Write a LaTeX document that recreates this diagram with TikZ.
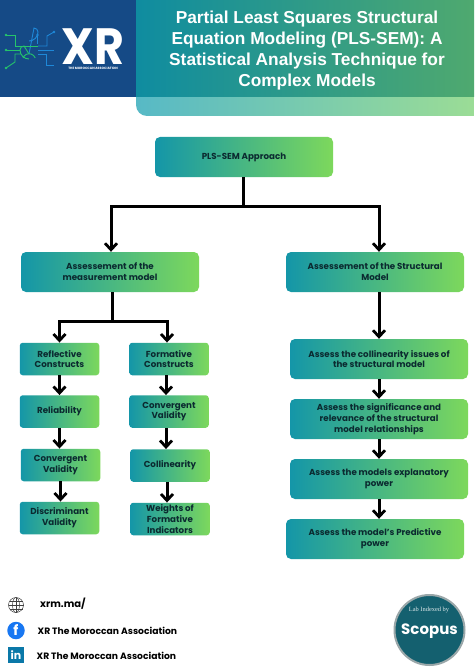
\documentclass[tikz,border=0pt]{standalone}
\usepackage{fontspec}
\setmainfont{Poppins}
\newfontfamily\titlefont{Liberation Sans}
\newfontfamily\serifbadge{Liberation Serif}
\usetikzlibrary{positioning, arrows.meta, calc}
\definecolor{xrblue}{HTML}{154A86}
\definecolor{xrteal}{HTML}{0F8CA0}
\definecolor{xrgreen}{HTML}{4FA96F}
\definecolor{xrpaleteal}{HTML}{57B9C6}
\definecolor{xrpalegreen}{HTML}{A0DF92}
\definecolor{boxteal}{HTML}{1496A8}
\definecolor{boxgreen}{HTML}{7DD85C}
\definecolor{boxtext}{HTML}{0B2A30}
\definecolor{scopusteal}{HTML}{14606F}
\definecolor{scopusrim}{HTML}{9AA7A9}
\definecolor{fbblue}{HTML}{1877F2}
\definecolor{liblue}{HTML}{0A78A8}
\definecolor{circgreen}{HTML}{25C46B}
\definecolor{circblue}{HTML}{1E88D8}
\tikzset{
  flowbox/.style={rounded corners=5pt, left color=boxteal, right color=boxgreen, draw=none,
    align=center, text=boxtext, font=\bfseries\fontsize{8.7}{10.8}\selectfont, inner sep=0pt},
  widebox/.style={flowbox, minimum width=178pt, minimum height=40pt},
  smallbox/.style={flowbox, rounded corners=3pt, minimum width=79.5pt, minimum height=32.5pt},
  wire/.style={black, line width=3pt},
  arrowwire/.style={wire, -{Straight Barb[length=6.5pt, width=12pt, line width=2.8pt]}},
  circuit/.style={line width=0.9pt},
  circdot/.style={circle, fill, inner sep=0pt, minimum size=2.6pt},
  footertext/.style={anchor=west, text=black, font=\bfseries\fontsize{9.2}{11}\selectfont}
}
\begin{document}
\begin{tikzpicture}[x=1pt, y=-1pt]
  \useasboundingbox (0,0) rectangle (474,671);
  \fill[white] (0,0) rectangle (474,671);
  % header
  \shade[left color=xrpaleteal, right color=xrpalegreen, rounded corners=11pt] (136,-20) rectangle (500,116);
  \fill[white] (474,-20) rectangle (500,130);
  \shade[left color=xrteal, right color=xrgreen] (136,0) rectangle (474,97);
  \fill[xrblue] (0,0) rectangle (136,97);
  \node[align=center, text=white, font=\titlefont\bfseries\fontsize{17.3}{21}\selectfont] (title) at (307,50.5)
    {Partial Least Squares Structural\\Equation Modeling (PLS-SEM): A\\Statistical Analysis Technique for\\Complex Models};
  % logo
  \draw[circgreen, circuit] (20,50) arc (180:90:9) (20,50) arc (180:270:4) -- (29,54);
  \draw[circblue, circuit] (29,41) arc (90:0:9) arc (0:-90:4) -- (29,54);
  \draw[circgreen, circuit] (20,46) -- (38,46);
  \draw[circgreen, circuit] (23,58) arc (200:340:6.5);
  \draw[circgreen, circuit] (6,35) node[circdot] (dota) {} -- (15,35) -- (15,46) -- (20,46);
  \draw[circgreen, circuit] (6,50) node[circdot] (dotb) {} -- (20,50);
  \draw[circgreen, circuit] (6,68) node[circdot] (dotc) {} -- (15,62) -- (15,54) -- (21,54);
  \draw[circblue, circuit] (54,32) node[circdot] (dotd) {} -- (47,36) -- (47,46) -- (38,46);
  \draw[circblue, circuit] (38,50) -- (54,50);
  \draw[circblue, circuit] (54,65) -- (46,65) -- (46,54) -- (38,54);
  \draw[circblue, circuit] (37.5,35) node[circdot] (dote) {} -- (37.5,44);
  \node[text=white, font=\bfseries\fontsize{51}{51}\selectfont, anchor=base, inner sep=0pt] (xr) at (93,65) {\scalebox{.9}[1]{XR}};
  \node[text=white, font=\bfseries\fontsize{3.2}{4}\selectfont, anchor=north, inner sep=0pt] (xrsub) at (93,67) {THE MOROCCAN ASSOCIATION};
  % top of the chart
  \node[widebox] (approach) at (244,157) {PLS-SEM Approach};
  \node[widebox] (measure) at (110,272) {Assessement of the\\measurement model};
  \node[widebox] (structural) at (375,272) {Assessement of the Structural\\Model};
  \coordinate (split) at (243,206);
  \draw[wire] (approach.south -| split) -- (split);
  \draw[arrowwire] (split) -| ([xshift=1pt]measure.north);
  \draw[arrowwire] (split) -| ([xshift=4pt]structural.north);
  % left columns
  \node[smallbox] (reflective) at (59.5,359) {Reflective\\Constructs};
  \node[smallbox] (reliability) at (59.5,411.5) {Reliability};
  \node[smallbox] (convleft) at (60.5,465) {Convergent\\Validity};
  \node[smallbox] (discriminant) at (59.5,518) {Discriminant\\Validity};
  \node[smallbox] (formative) at (169,359) {Formative\\Constructs};
  \node[smallbox] (convright) at (169,411.5) {Convergent\\Validity};
  \node[smallbox] (collinearity) at (170,465.5) {Collinearity};
  \node[smallbox] (weights) at (170,519) {Weights of\\Formative\\Indicators};
  \coordinate (measuresplit) at (112,321);
  \draw[wire] (measure.south -| measuresplit) -- (measuresplit);
  \draw[arrowwire] (measuresplit) -| (reflective.north);
  \draw[arrowwire] (measuresplit) -| ([xshift=-2pt]formative.north);
  \foreach \a/\b in {reflective/reliability, reliability/convleft, convleft/discriminant}
    \draw[arrowwire] (\a.south) -- (\a.south |- \b.north);
  \foreach \a/\b in {formative/convright, convright/collinearity, collinearity/weights}
    \draw[arrowwire] ([xshift=-3pt]\a.south) -- ([xshift=-3pt]\a.south |- \b.north);
  % right column
  \node[widebox] (collissue) at (379,359) {Assess the collinearity issues of\\the structural model};
  \node[widebox] (signif) at (379,419) {Assess the significance and\\relevance of the structural\\model relationships};
  \node[widebox] (explan) at (379,479) {Assess the models explanatory\\power};
  \node[widebox] (predict) at (375,539) {Assess the model's Predictive\\power};
  \draw[arrowwire] ([xshift=4pt]structural.south) -- (collissue.north);
  \draw[arrowwire] (collissue) -- (signif);
  \draw[arrowwire] (signif) -- (explan);
  \draw[arrowwire] (explan) -- (explan |- predict.north);
  % footer
  \draw[black!75, line width=0.5pt] (16,605) circle (7.5);
  \draw[black!75, line width=0.5pt] (16,605) ellipse (3.5 and 7.5);
  \draw[black!75, line width=0.5pt] (16,597.5) -- (16,612.5) (8.5,605) -- (23.5,605);
  \draw[black!75, line width=0.5pt] (9.5,601) -- (22.5,601) (9.5,609) -- (22.5,609);
  \node[footertext, font=\bfseries\fontsize{10}{12}\selectfont, inner sep=0pt] (site) at (40,603.5) {xrm.ma/};
  \node[circle, fill=fbblue, minimum size=17.5pt, inner sep=0pt, text=white, font=\bfseries\fontsize{14}{14}\selectfont] (fb) at (16,630.5) {f};
  \node[footertext, inner sep=0pt] (fbname) at (37.5,630.5) {XR The Moroccan Association};
  \node[fill=liblue, minimum size=16pt, inner sep=0pt, text=white, font=\bfseries\fontsize{11}{11}\selectfont] (li) at (16,655) {in};
  \node[footertext, inner sep=0pt] (liname) at (36.5,655.5) {XR The Moroccan Association};
  \node[circle, fill=scopusteal, draw=scopusrim, line width=2pt, minimum size=70pt, inner sep=0pt] (badge) at (429.5,630) {};
  \node[text=white!85!scopusteal, font=\serifbadge\fontsize{6.4}{7}\selectfont] (badgetop) at (429,610) {Lab Indexed by};
  \node[text=white, font=\bfseries\fontsize{15}{15}\selectfont] (scopus) at (429.5,631) {Scopus};
\end{tikzpicture}
\end{document}
